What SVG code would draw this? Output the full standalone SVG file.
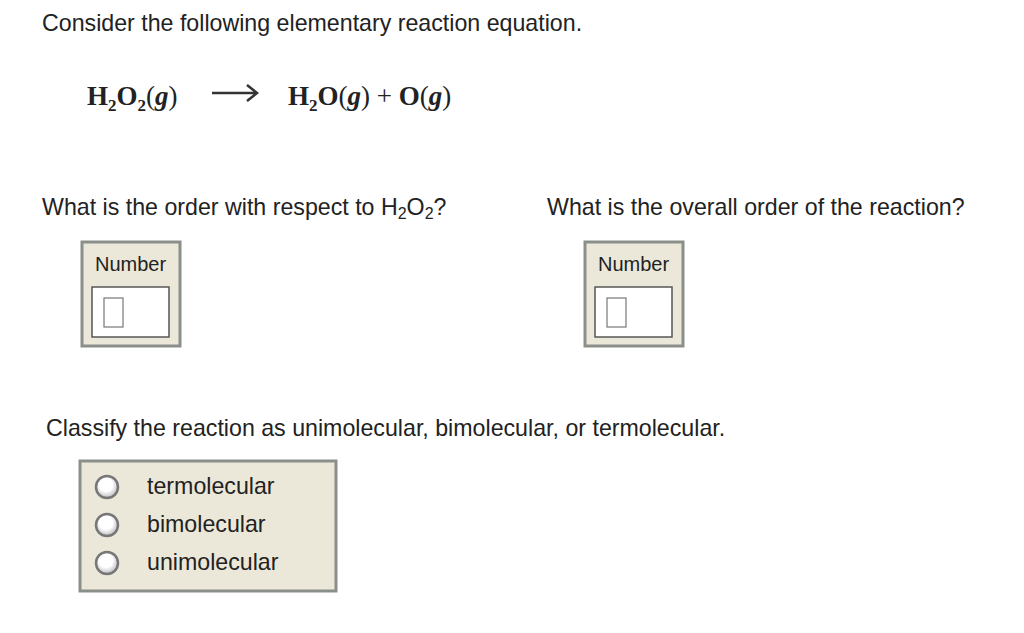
<svg xmlns="http://www.w3.org/2000/svg" width="1024" height="633" viewBox="0 0 1024 633">
<defs>
<radialGradient id="rg" cx="0.45" cy="0.4" r="0.6"><stop offset="0.5" stop-color="#fff"/><stop offset="1" stop-color="#bbb"/></radialGradient>
</defs>
<style>
.t{font-family:"Liberation Sans",Arial,sans-serif;font-size:23.2px;fill:#222}
.s{font-family:"Liberation Sans",Arial,sans-serif;font-size:20px;fill:#222}
.eq{font-family:"Liberation Serif","Times New Roman",serif;font-size:27px;font-weight:bold;fill:#222}
.sub{font-size:17px}
.panel{fill:#ece8d9;stroke:#8a8f8a;stroke-width:3}
.inp{fill:#fff;stroke:#555;stroke-width:1.5}
.cur{fill:#fff;stroke:#777;stroke-width:1.2}
.rad{fill:url(#rg);stroke:#777;stroke-width:2.5}
</style>
<rect width="1024" height="633" fill="#fff"/>
<text class="t" x="42" y="31">Consider the following elementary reaction equation.</text>
<g id="equation">
<text class="eq" x="87" y="105">H<tspan class="sub" dy="6">2</tspan><tspan dy="-6">O</tspan><tspan class="sub" dy="6">2</tspan><tspan dy="-6" font-weight="normal">(</tspan><tspan font-style="italic">g</tspan><tspan font-weight="normal">)</tspan></text>
<path d="M212 93 H256 M247 85 L257 93 L247 101" fill="none" stroke="#333" stroke-width="2.5"/>
<text class="eq" x="288" y="105">H<tspan class="sub" dy="6">2</tspan><tspan dy="-6">O</tspan><tspan font-weight="normal">(</tspan><tspan font-style="italic">g</tspan><tspan font-weight="normal">) + </tspan>O<tspan font-weight="normal">(</tspan><tspan font-style="italic">g</tspan><tspan font-weight="normal">)</tspan></text>
</g>
<text class="t" x="42" y="215">What is the order with respect to H<tspan font-size="16" dy="4">2</tspan><tspan dy="-4">O</tspan><tspan font-size="16" dy="4">2</tspan><tspan dy="-4">?</tspan></text>
<text class="t" x="547" y="215">What is the overall order of the reaction?</text>
<g id="number1">
<rect class="panel" x="82" y="242" width="98" height="104"/>
<text class="s" x="95" y="271">Number</text>
<rect class="inp" x="92" y="287" width="77" height="50"/>
<rect class="cur" x="104" y="298" width="19" height="29"/>
</g>
<g id="number2">
<rect class="panel" x="585" y="242" width="98" height="104"/>
<text class="s" x="598" y="271">Number</text>
<rect class="inp" x="595" y="287" width="77" height="50"/>
<rect class="cur" x="607" y="298" width="19" height="29"/>
</g>
<text class="t" x="46" y="436">Classify the reaction as unimolecular, bimolecular, or termolecular.</text>
<g id="choices">
<rect class="panel" x="80" y="461" width="256" height="130" stroke-width="2"/>
<circle class="rad" cx="107" cy="487" r="11"/>
<circle class="rad" cx="107" cy="525" r="11"/>
<circle class="rad" cx="107" cy="563" r="11"/>
<text class="t" x="147" y="494">termolecular</text>
<text class="t" x="147" y="532">bimolecular</text>
<text class="t" x="147" y="570">unimolecular</text>
</g>
</svg>
